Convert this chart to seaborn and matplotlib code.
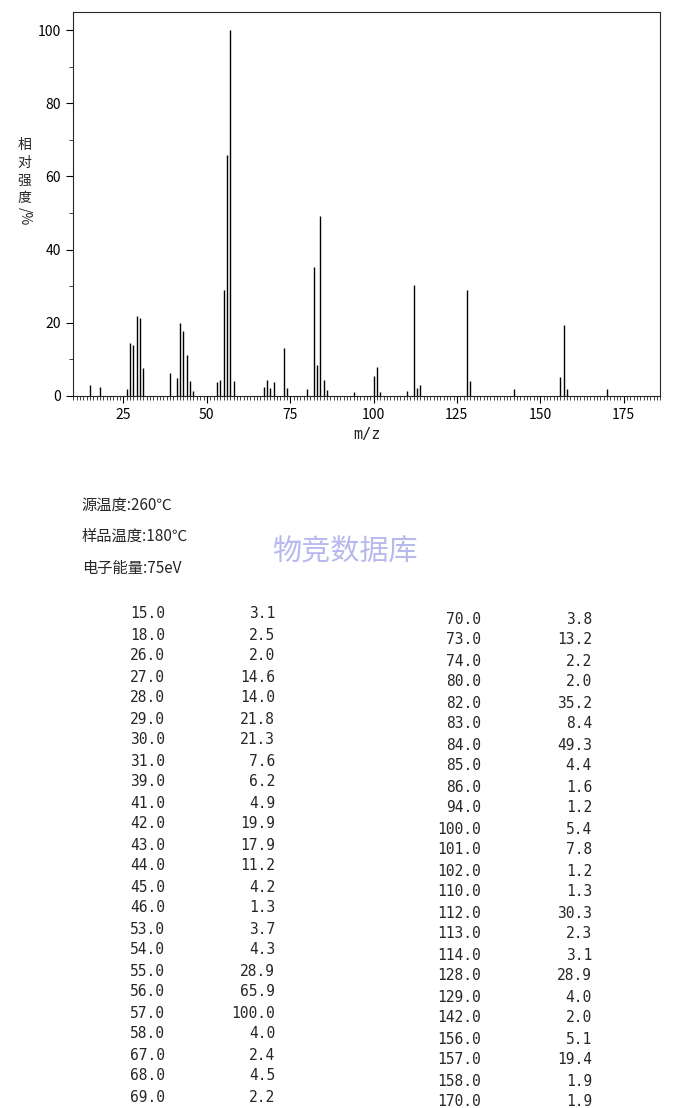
import numpy as np
import pandas as pd
import seaborn as sns
import matplotlib.pyplot as plt
from matplotlib.ticker import MultipleLocator

mz = [15.0, 18.0, 26.0, 27.0, 28.0, 29.0, 30.0, 31.0, 39.0, 41.0, 42.0, 43.0, 44.0, 45.0, 46.0,
      53.0, 54.0, 55.0, 56.0, 57.0, 58.0, 67.0, 68.0, 69.0,
      70.0, 73.0, 74.0, 80.0, 82.0, 83.0, 84.0, 85.0, 86.0, 94.0, 100.0, 101.0, 102.0, 110.0,
      112.0, 113.0, 114.0, 128.0, 129.0, 142.0, 156.0, 157.0, 158.0, 170.0]
intensity = [3.1, 2.5, 2.0, 14.6, 14.0, 21.8, 21.3, 7.6, 6.2, 4.9, 19.9, 17.9, 11.2, 4.2, 1.3,
             3.7, 4.3, 28.9, 65.9, 100.0, 4.0, 2.4, 4.5, 2.2,
             3.8, 13.2, 2.2, 2.0, 35.2, 8.4, 49.3, 4.4, 1.6, 1.2, 5.4, 7.8, 1.2, 1.3,
             30.3, 2.3, 3.1, 28.9, 4.0, 2.0, 5.1, 19.4, 1.9, 1.9]
header = ["源温度:260℃", "样品温度:180℃", "电子能量:75eV"]

df = pd.DataFrame({"mz": mz, "rel": intensity})

sns.set_style("ticks")
plt.rcParams['font.family'] = ['Noto Sans CJK SC', 'DejaVu Sans']

fig = plt.figure(figsize=(6.87, 11.08), dpi=100)
ax = fig.add_axes([0.106, 0.6426, 0.855, 0.3464])
ax.vlines(df["mz"], 0, df["rel"], color="black", lw=1)
ax.set_xlim(9.8, 186)
ax.set_ylim(0, 104.9)
ax.xaxis.set_major_locator(MultipleLocator(25))
ax.xaxis.set_minor_locator(MultipleLocator(1))
ax.yaxis.set_major_locator(MultipleLocator(20))
ax.yaxis.set_minor_locator(MultipleLocator(10))
ax.tick_params(labelsize=10, colors="black", width=0.8, length=5)
ax.tick_params(which="minor", length=3, width=0.6)
for s in ax.spines.values():
    s.set_linewidth(0.8)
ax.set_xlabel("m/z", fontsize=11, family="DejaVu Sans Mono")
fig.text(0.036, 0.845, "相\n对\n强\n度", fontsize=10, ha="center", va="center", linespacing=1.35)
fig.text(0.036, 0.805, "/%", fontsize=10, ha="center", va="center", rotation=-90)

for i, t in enumerate(header):
    fig.text(0.119, 1 - (505 + 31.5 * i) / 1108, t, fontsize=11, va="center")
fig.text(0.502, 1 - 553 / 1108, "物竞数据库", fontsize=21, color="#b7b9ee",
         ha="center", va="center")

half = 24
for i in range(len(mz)):
    if i < half:
        y = 1 - (614 + 21 * i) / 1108
        xa, xb = 165, 275
    else:
        y = 1 - (619 + 21 * (i - half)) / 1108
        xa, xb = 481, 592
    fig.text(xa / 687, y, f"{mz[i]:.1f}", ha="right", va="center", fontsize=10.5, family="DejaVu Sans Mono")
    fig.text(xb / 687, y, f"{intensity[i]:.1f}", ha="right", va="center", fontsize=10.5, family="DejaVu Sans Mono")

fig.savefig("out.png", dpi=100, facecolor="white")
